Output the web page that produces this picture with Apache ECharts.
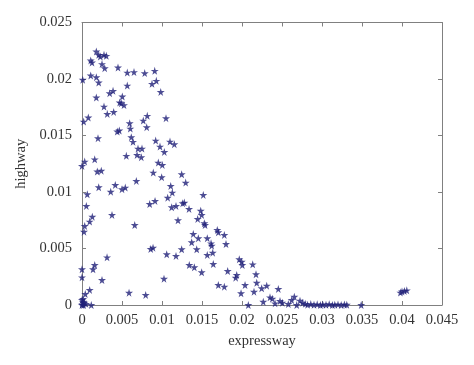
<!DOCTYPE html>
<html><head><meta charset="utf-8">
<script src="https://cdn.jsdelivr.net/npm/echarts@6/dist/echarts.min.js"></script>
<style>html,body{margin:0;padding:0;background:#fff}#c{width:474px;height:365px}</style>
</head><body><div id="c"></div>
<script>
const xName = 'expressway';
const yName = 'highway';
const xTicks = [0, 0.005, 0.01, 0.015, 0.02, 0.025, 0.03, 0.035, 0.04, 0.045];
const yTicks = [0, 0.005, 0.01, 0.015, 0.02, 0.025];
const xVals = [
0.00179,0.00209,0.00229,0.00275,0.00304,0.00109,0.00125,0.0025,0.00284,0.0045,
0.00566,0.0065,0.00784,0.00909,0.00009,0.00109,0.00179,0.00209,0.00566,0.00875,
0.00929,0.00388,0.00346,0.00179,0.00504,0.00984,0.00471,0.00491,0.00525,0.00275,
0.00316,0.00396,0.00816,0.00766,0.00021,0.00079,0.00596,0.00604,0.00809,0.00441,
0.00466,0.002,0.00616,0.00638,0.00921,0.0105,0.007,0.0075,0.00688,0.00741,
0.00554,0.00034,0.00159,0.00975,0.01029,0.011,0.01154,0.00954,0.01004,0.0,
0.00191,0.00241,0.00679,0.00891,0.00996,0.01246,0.01296,0.01109,0.00209,0.00416,
0.00359,0.005,0.00541,0.00066,0.01129,0.01071,0.01516,0.00913,0.00846,0.00054,
0.01121,0.01175,0.01259,0.01279,0.01338,0.01484,0.01496,0.00129,0.00096,0.00375,
0.00659,0.012,0.01446,0.01529,0.01538,0.00034,0.00025,0.01691,0.01704,0.01779,
0.01391,0.01454,0.01566,0.01371,0.01613,0.01621,0.018,0.00859,0.00888,0.01059,
0.01175,0.01246,0.01434,0.01566,0.01634,0.00313,0.01966,0.01996,0.02004,0.02134,
0.01641,0.01341,0.01404,0.00159,0.00138,0.0,0.0,0.01496,0.01821,0.01934,
0.01921,0.02175,0.01025,0.0025,0.02184,0.01704,0.01779,0.02038,0.02246,0.02309,
0.02454,0.00096,0.00041,0.00588,0.00796,0.01988,0.0215,0.0235,0.02379,0.02654,
0.02266,0.02079,0.02413,0.02475,0.02504,0.02579,0.02621,0.02725,0.02759,0.02684,
0.0279,0.0282,0.0286,0.029,0.0294,0.0298,0.0301,0.0305,0.0309,0.0313,
0.0316,0.032,0.0324,0.0328,0.0331,0.0349,0.0398,0.04,0.0403,0.0406,
0.0,0.00013,0.00003,0.00116,0.0002,0.0005,0.0,0.00013,0.0003
];
const yVals = [
0.02243,0.02214,0.02199,0.02214,0.02205,0.02164,0.02146,0.02132,0.02096,0.02102,
0.02057,0.02061,0.02052,0.02072,0.01993,0.02031,0.02016,0.01969,0.01942,0.01957,
0.01984,0.01895,0.01875,0.01836,0.01845,0.01886,0.01792,0.01786,0.01769,0.01756,
0.01691,0.01709,0.01674,0.01632,0.01623,0.01659,0.01609,0.01561,0.01574,0.01535,
0.01544,0.01476,0.01485,0.01444,0.01455,0.01653,0.01384,0.01384,0.01328,0.01308,
0.0132,0.01269,0.01289,0.01402,0.01355,0.01446,0.01423,0.0126,0.0124,0.01231,
0.01181,0.01189,0.01098,0.01172,0.01131,0.01157,0.01083,0.01054,0.01042,0.01063,
0.01003,0.01025,0.01039,0.0098,0.00995,0.0095,0.00974,0.00921,0.00894,0.00877,
0.00865,0.00877,0.00901,0.00906,0.0085,0.00835,0.00797,0.00782,0.00738,0.00797,
0.00708,0.0075,0.00762,0.00724,0.00708,0.007,0.00649,0.00664,0.00644,0.0062,
0.00629,0.00591,0.00591,0.00555,0.00546,0.00525,0.0054,0.00496,0.00507,0.00449,
0.00434,0.00493,0.00493,0.00443,0.00463,0.00422,0.00405,0.00383,0.00354,0.0036,
0.00363,0.00354,0.00334,0.00354,0.00316,0.00316,0.00245,0.0029,0.00301,0.00266,
0.00242,0.00272,0.00233,0.00221,0.00197,0.00177,0.00162,0.00177,0.00148,0.00171,
0.00142,0.00133,0.00097,0.00109,0.00089,0.00104,0.00118,0.00068,0.00056,0.00074,
0.00029,0.0,0.00015,0.00035,0.0002,0.00009,0.00044,0.00038,0.0002,0.0,
0.0001,0.00003,0.00008,0.00002,0.00006,0.0,0.00004,0.00002,0.00007,0.0,
0.00003,0.00005,0.0,0.00004,0.00002,0.0,0.0011,0.0012,0.00125,0.0013,
0.00044,0.00024,0.00006,0.0,0.0,0.0001,0.0,0.00053,0.0002
];
const points = xVals.map((x, i) => [x, yVals[i]]);
const star = 'path://M50,0 L61,35 L98,35 L68,57 L79,91 L50,70 L21,91 L32,57 L2,35 L39,35 Z';
const axisCol = '#808080';
const font = 'Liberation Serif';
function fmt(v){ return String(parseFloat(v.toFixed(4))); }
function axis(pos, ticks, showLabel, name, extra){
  return Object.assign({
    type:'value', position:pos, min:ticks[0], max:ticks[ticks.length-1],
    interval:ticks[1]-ticks[0],
    axisLine:{show:true, onZero:false, lineStyle:{color:axisCol, width:1}},
    axisTick:{show:true, inside:true, length:4, lineStyle:{color:axisCol}},
    axisLabel:{show:showLabel, formatter:fmt, color:'#333', fontFamily:font, fontSize:14.5, margin:8},
    splitLine:{show:false},
    name: name || '', nameLocation:'middle',
    nameTextStyle:{fontFamily:font, fontSize:14.5, color:'#333'}
  }, extra||{});
}
const chart = echarts.init(document.getElementById('c'), null, {renderer:'canvas'});
chart.setOption({
  animation:false,
  backgroundColor:'#fff',
  grid:{left:82, top:22.5, right:32, bottom:60, containLabel:false},
  xAxis:[axis('bottom', xTicks, true, xName, {nameGap:29}), axis('top', xTicks, false)],
  yAxis:[axis('left', yTicks, true, yName, {nameGap:50, axisLabel:{show:true, formatter:fmt, color:'#333', fontFamily:font, fontSize:14.5, margin:10}}), axis('right', yTicks, false)],
  series:[{
    type:'scatter', xAxisIndex:0, yAxisIndex:0, data:points,
    symbol:star, symbolSize:8,
    itemStyle:{color:'#1f1f78'}
  }]
});
</script></body></html>
